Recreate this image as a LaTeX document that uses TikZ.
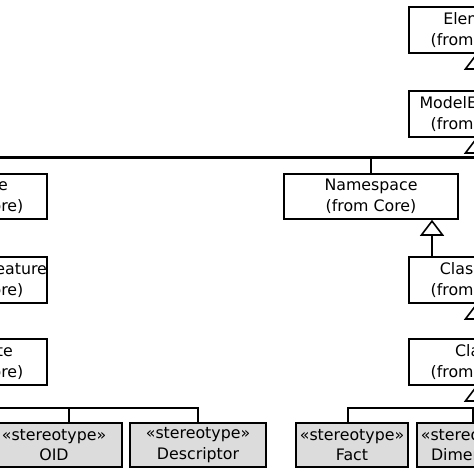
\documentclass[tikz,border=0pt]{standalone}
\usepackage{fontspec}
\setmainfont{DejaVu Sans}
\usetikzlibrary{arrows.meta}
\definecolor{stgrey}{RGB}{220,220,220}
\begin{document}
\begin{tikzpicture}[x=1pt,y=-1pt,
 umlbox/.style={draw, line width=1.6pt, minimum height=46pt, inner sep=0pt, align=center, font=\fontsize{15.8}{20.5}\selectfont},
 stereobox/.style={umlbox, fill=stgrey, minimum height=44pt},
 link/.style={line width=1.9pt},
 gen/.style={link, -{Triangle[length=16pt,width=24pt,fill=white,line width=1.6pt]}},
 bus/.style={line width=3pt}]
\useasboundingbox (0,0) rectangle (474,474);
\clip (0,0) rectangle (474,474);
% right column
\node[umlbox, minimum width=134pt] (el) at (476,30) {Element\\(from Core)};
\node[umlbox, minimum width=134pt] (me) at (476,114) {ModelElement\\(from Core)};
\node[umlbox, minimum width=174pt, minimum height=45pt] (ns) at (371,196.5) {Namespace\\(from Core)};
\node[umlbox, minimum width=134pt] (clsf) at (476,280) {Classifier\\(from Core)};
\node[umlbox, minimum width=134pt] (cls) at (476,362) {Class\\(from Core)};
% left column
\node[umlbox, minimum width=138pt, minimum height=45pt] (feat) at (-22,196.5) {Feature\\(from Core)};
\node[umlbox, minimum width=138pt] (sf) at (-22,280) {StructuralFeature\\(from Core)};
\node[umlbox, minimum width=138pt] (attr) at (-22,362) {Attribute\\(from Core)};
% stereotypes
\node[stereobox, minimum width=136pt] (oid) at (54,445) {«stereotype»\\OID};
\node[stereobox, minimum width=136pt] (desc) at (198,445) {«stereotype»\\Descriptor};
\node[stereobox, minimum width=112pt] (fact) at (352,445) {«stereotype»\\Fact};
\node[stereobox, minimum width=112pt] (dim) at (473,445) {«stereotype»\\Dimension};
% helper coordinates
\coordinate (busL) at (-100,157);
\coordinate (busR) at (600,157);
\coordinate (nsx) at (432,0);
\coordinate (barL) at (-100,408);
\coordinate (barR) at (600,408);
\coordinate (oidx) at (69,0);
\coordinate (factx) at (348,0);
% connectors
\draw[gen] (me.north) -- (el.south);
\draw[bus] (busL) -- (busR);
\draw[gen] (me.south |- busL) -- (me.south);
\draw[link] (ns.north) -- (ns.north |- busL);
\draw[link] (feat.north) -- (feat.north |- busL);
\draw[gen] (clsf.north -| nsx) -- (ns.south -| nsx);
\draw[gen] (cls.north) -- (clsf.south);
\draw[gen] (sf.north) -- (feat.south);
\draw[gen] (attr.north) -- (sf.south);
\draw[gen] (cls.south |- barR) -- (cls.south);
\draw[link] (fact.north -| factx) |- (barR);
\draw[link] (dim.north) -- (dim.north |- barR);
\draw[gen] (attr.south |- barL) -- (attr.south);
\draw[link] (desc.north) |- (barL);
\draw[link] (oid.north -| oidx) -- (oidx |- barL);
\end{tikzpicture}
\end{document}
